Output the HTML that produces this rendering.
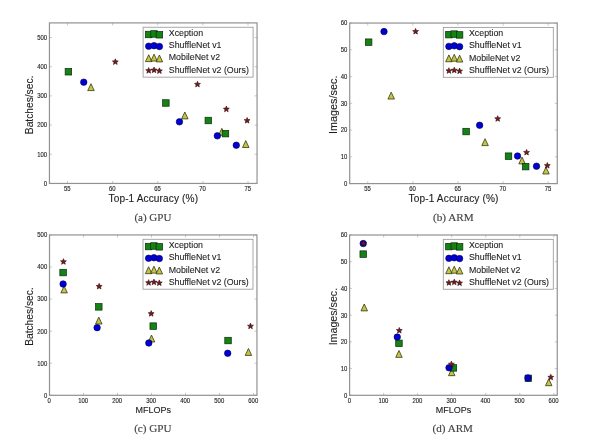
<!DOCTYPE html>
<html><head><meta charset="utf-8"><style>
html,body{margin:0;padding:0;background:#fff;}
svg{display:block;filter:blur(0.45px);}
.tk{font-family:"Liberation Sans",sans-serif;font-size:7.6px;fill:#222;stroke:#222;stroke-width:0.14px;}
.ylab{font-family:"Liberation Sans",sans-serif;font-size:10.4px;fill:#1e1e1e;stroke:#1e1e1e;stroke-width:0.1px;}
.lab{font-family:"Liberation Sans",sans-serif;font-size:10.1px;fill:#1e1e1e;stroke:#1e1e1e;stroke-width:0.12px;}
.lab2{font-family:"Liberation Sans",sans-serif;font-size:9.8px;fill:#1e1e1e;stroke:#1e1e1e;stroke-width:0.12px;}
.leg{font-family:"Liberation Sans",sans-serif;font-size:8.8px;fill:#1e1e1e;stroke:#1e1e1e;stroke-width:0.1px;}
.cap{font-family:"Liberation Serif",serif;font-size:10.5px;fill:#444;stroke:#444;stroke-width:0.15px;}
</style></head><body>
<svg width="600" height="448" viewBox="0 0 600 448">
<rect width="600" height="448" fill="#fff"/>
<rect x="49.45" y="22.90" width="207.60" height="160.55" fill="none" stroke="#929292" stroke-width="1.2"/>
<path d="M67.50,183.45 v-2.5 M67.50,22.90 v2.5" stroke="#929292" stroke-width="0.5"/>
<text x="67.20" y="191.15" class="tk" text-anchor="middle" textLength="6.60" lengthAdjust="spacingAndGlyphs">55</text>
<path d="M112.63,183.45 v-2.5 M112.63,22.90 v2.5" stroke="#929292" stroke-width="0.5"/>
<text x="112.33" y="191.15" class="tk" text-anchor="middle" textLength="6.60" lengthAdjust="spacingAndGlyphs">60</text>
<path d="M157.76,183.45 v-2.5 M157.76,22.90 v2.5" stroke="#929292" stroke-width="0.5"/>
<text x="157.46" y="191.15" class="tk" text-anchor="middle" textLength="6.60" lengthAdjust="spacingAndGlyphs">65</text>
<path d="M202.89,183.45 v-2.5 M202.89,22.90 v2.5" stroke="#929292" stroke-width="0.5"/>
<text x="202.59" y="191.15" class="tk" text-anchor="middle" textLength="6.60" lengthAdjust="spacingAndGlyphs">70</text>
<path d="M248.02,183.45 v-2.5 M248.02,22.90 v2.5" stroke="#929292" stroke-width="0.5"/>
<text x="247.72" y="191.15" class="tk" text-anchor="middle" textLength="6.60" lengthAdjust="spacingAndGlyphs">75</text>
<path d="M49.45,183.45 h2.5 M257.05,183.45 h-2.5" stroke="#929292" stroke-width="0.5"/>
<text x="47.15" y="185.85" class="tk" text-anchor="end" textLength="3.30" lengthAdjust="spacingAndGlyphs">0</text>
<path d="M49.45,154.26 h2.5 M257.05,154.26 h-2.5" stroke="#929292" stroke-width="0.5"/>
<text x="47.15" y="156.66" class="tk" text-anchor="end" textLength="9.90" lengthAdjust="spacingAndGlyphs">100</text>
<path d="M49.45,125.07 h2.5 M257.05,125.07 h-2.5" stroke="#929292" stroke-width="0.5"/>
<text x="47.15" y="127.47" class="tk" text-anchor="end" textLength="9.90" lengthAdjust="spacingAndGlyphs">200</text>
<path d="M49.45,95.88 h2.5 M257.05,95.88 h-2.5" stroke="#929292" stroke-width="0.5"/>
<text x="47.15" y="98.28" class="tk" text-anchor="end" textLength="9.90" lengthAdjust="spacingAndGlyphs">300</text>
<path d="M49.45,66.69 h2.5 M257.05,66.69 h-2.5" stroke="#929292" stroke-width="0.5"/>
<text x="47.15" y="69.09" class="tk" text-anchor="end" textLength="9.90" lengthAdjust="spacingAndGlyphs">400</text>
<path d="M49.45,37.50 h2.5 M257.05,37.50 h-2.5" stroke="#929292" stroke-width="0.5"/>
<text x="47.15" y="39.90" class="tk" text-anchor="end" textLength="9.90" lengthAdjust="spacingAndGlyphs">500</text>
<text x="153.25" y="201.80" class="lab" text-anchor="middle" textLength="89.5" lengthAdjust="spacing">Top-1 Accuracy (%)</text>
<text transform="translate(33.00,104.90) rotate(-90)" class="ylab" text-anchor="middle" textLength="58.5" lengthAdjust="spacingAndGlyphs">Batches/sec.</text>
<text x="152.90" y="220.70" class="cap" text-anchor="middle" textLength="37.0" lengthAdjust="spacingAndGlyphs">(a) GPU</text>
<path d="M90.97,83.68 L87.72,90.58 L94.22,90.58 Z" fill="#c4c448" stroke="#2e2e08" stroke-width="0.75"/>
<rect x="65.15" y="68.51" width="6.50" height="6.50" fill="#138313" stroke="#0a2a0a" stroke-width="0.7"/>
<circle cx="83.75" cy="82.16" r="3.25" fill="#0000d4" stroke="#000050" stroke-width="0.6"/>
<path d="M115.34,58.82 L116.14,60.82 L118.29,60.97 L116.64,62.35 L117.16,64.43 L115.34,63.29 L113.52,64.43 L114.04,62.35 L112.39,60.97 L114.54,60.82Z" fill="#7a1a1e" stroke="#2a0808" stroke-width="0.6" stroke-linejoin="miter"/>
<path d="M184.84,111.99 L181.59,118.89 L188.09,118.89 Z" fill="#c4c448" stroke="#2e2e08" stroke-width="0.75"/>
<rect x="162.64" y="99.74" width="6.50" height="6.50" fill="#138313" stroke="#0a2a0a" stroke-width="0.7"/>
<circle cx="179.43" cy="121.86" r="3.25" fill="#0000d4" stroke="#000050" stroke-width="0.6"/>
<path d="M197.48,81.30 L198.28,83.30 L200.43,83.44 L198.78,84.82 L199.30,86.91 L197.48,85.76 L195.66,86.91 L196.18,84.82 L194.53,83.44 L196.68,83.30Z" fill="#7a1a1e" stroke="#2a0808" stroke-width="0.6" stroke-linejoin="miter"/>
<path d="M221.85,128.34 L218.60,135.24 L225.10,135.24 Z" fill="#c4c448" stroke="#2e2e08" stroke-width="0.75"/>
<rect x="205.06" y="117.26" width="6.50" height="6.50" fill="#138313" stroke="#0a2a0a" stroke-width="0.7"/>
<circle cx="217.34" cy="135.87" r="3.25" fill="#0000d4" stroke="#000050" stroke-width="0.6"/>
<path d="M226.36,106.11 L227.16,108.11 L229.31,108.26 L227.66,109.63 L228.18,111.72 L226.36,110.58 L224.54,111.72 L225.06,109.63 L223.41,108.26 L225.56,108.11Z" fill="#7a1a1e" stroke="#2a0808" stroke-width="0.6" stroke-linejoin="miter"/>
<path d="M245.77,140.60 L242.52,147.50 L249.02,147.50 Z" fill="#c4c448" stroke="#2e2e08" stroke-width="0.75"/>
<rect x="222.21" y="130.39" width="6.50" height="6.50" fill="#138313" stroke="#0a2a0a" stroke-width="0.7"/>
<circle cx="236.29" cy="145.21" r="3.25" fill="#0000d4" stroke="#000050" stroke-width="0.6"/>
<path d="M247.12,117.50 L247.92,119.49 L250.07,119.64 L248.42,121.02 L248.94,123.11 L247.12,121.96 L245.30,123.11 L245.82,121.02 L244.17,119.64 L246.32,119.49Z" fill="#7a1a1e" stroke="#2a0808" stroke-width="0.6" stroke-linejoin="miter"/>
<rect x="143.10" y="27.25" width="110.00" height="49.90" fill="#fff" stroke="#999" stroke-width="0.85"/>
<rect x="145.45" y="31.25" width="6.50" height="6.50" fill="#138313" stroke="#0a2a0a" stroke-width="0.7"/>
<rect x="150.80" y="30.69" width="6.50" height="6.50" fill="#138313" stroke="#0a2a0a" stroke-width="0.7"/>
<rect x="156.15" y="31.53" width="6.50" height="6.50" fill="#138313" stroke="#0a2a0a" stroke-width="0.7"/>
<text x="168.80" y="36.20" class="leg">Xception</text>
<circle cx="148.70" cy="46.23" r="3.25" fill="#0000d4" stroke="#000050" stroke-width="0.6"/>
<circle cx="154.05" cy="45.67" r="3.25" fill="#0000d4" stroke="#000050" stroke-width="0.6"/>
<circle cx="159.40" cy="46.51" r="3.25" fill="#0000d4" stroke="#000050" stroke-width="0.6"/>
<text x="168.80" y="48.33" class="leg">ShuffleNet v1</text>
<path d="M148.70,54.71 L145.45,61.61 L151.95,61.61 Z" fill="#c4c448" stroke="#2e2e08" stroke-width="0.75"/>
<path d="M154.05,54.15 L150.80,61.05 L157.30,61.05 Z" fill="#c4c448" stroke="#2e2e08" stroke-width="0.75"/>
<path d="M159.40,54.99 L156.15,61.89 L162.65,61.89 Z" fill="#c4c448" stroke="#2e2e08" stroke-width="0.75"/>
<text x="168.80" y="60.46" class="leg">MobileNet v2</text>
<path d="M148.70,67.59 L149.50,69.59 L151.65,69.73 L150.00,71.11 L150.52,73.20 L148.70,72.05 L146.88,73.20 L147.40,71.11 L145.75,69.73 L147.90,69.59Z" fill="#7a1a1e" stroke="#2a0808" stroke-width="0.6" stroke-linejoin="miter"/>
<path d="M154.05,67.03 L154.85,69.02 L157.00,69.17 L155.35,70.55 L155.87,72.64 L154.05,71.49 L152.23,72.64 L152.75,70.55 L151.10,69.17 L153.25,69.02Z" fill="#7a1a1e" stroke="#2a0808" stroke-width="0.6" stroke-linejoin="miter"/>
<path d="M159.40,67.87 L160.20,69.87 L162.35,70.01 L160.70,71.39 L161.22,73.48 L159.40,72.34 L157.58,73.48 L158.10,71.39 L156.45,70.01 L158.60,69.87Z" fill="#7a1a1e" stroke="#2a0808" stroke-width="0.6" stroke-linejoin="miter"/>
<text x="168.80" y="72.59" class="leg">ShuffleNet v2 (Ours)</text>
<rect x="349.70" y="23.05" width="207.55" height="160.55" fill="none" stroke="#929292" stroke-width="1.2"/>
<path d="M367.75,183.60 v-2.5 M367.75,23.05 v2.5" stroke="#929292" stroke-width="0.5"/>
<text x="367.45" y="191.30" class="tk" text-anchor="middle" textLength="6.60" lengthAdjust="spacingAndGlyphs">55</text>
<path d="M412.87,183.60 v-2.5 M412.87,23.05 v2.5" stroke="#929292" stroke-width="0.5"/>
<text x="412.57" y="191.30" class="tk" text-anchor="middle" textLength="6.60" lengthAdjust="spacingAndGlyphs">60</text>
<path d="M457.99,183.60 v-2.5 M457.99,23.05 v2.5" stroke="#929292" stroke-width="0.5"/>
<text x="457.69" y="191.30" class="tk" text-anchor="middle" textLength="6.60" lengthAdjust="spacingAndGlyphs">65</text>
<path d="M503.11,183.60 v-2.5 M503.11,23.05 v2.5" stroke="#929292" stroke-width="0.5"/>
<text x="502.81" y="191.30" class="tk" text-anchor="middle" textLength="6.60" lengthAdjust="spacingAndGlyphs">70</text>
<path d="M548.23,183.60 v-2.5 M548.23,23.05 v2.5" stroke="#929292" stroke-width="0.5"/>
<text x="547.93" y="191.30" class="tk" text-anchor="middle" textLength="6.60" lengthAdjust="spacingAndGlyphs">75</text>
<path d="M349.70,183.60 h2.5 M557.25,183.60 h-2.5" stroke="#929292" stroke-width="0.5"/>
<text x="347.40" y="186.00" class="tk" text-anchor="end" textLength="3.30" lengthAdjust="spacingAndGlyphs">0</text>
<path d="M349.70,156.84 h2.5 M557.25,156.84 h-2.5" stroke="#929292" stroke-width="0.5"/>
<text x="347.40" y="159.24" class="tk" text-anchor="end" textLength="6.60" lengthAdjust="spacingAndGlyphs">10</text>
<path d="M349.70,130.08 h2.5 M557.25,130.08 h-2.5" stroke="#929292" stroke-width="0.5"/>
<text x="347.40" y="132.48" class="tk" text-anchor="end" textLength="6.60" lengthAdjust="spacingAndGlyphs">20</text>
<path d="M349.70,103.33 h2.5 M557.25,103.33 h-2.5" stroke="#929292" stroke-width="0.5"/>
<text x="347.40" y="105.73" class="tk" text-anchor="end" textLength="6.60" lengthAdjust="spacingAndGlyphs">30</text>
<path d="M349.70,76.57 h2.5 M557.25,76.57 h-2.5" stroke="#929292" stroke-width="0.5"/>
<text x="347.40" y="78.97" class="tk" text-anchor="end" textLength="6.60" lengthAdjust="spacingAndGlyphs">40</text>
<path d="M349.70,49.81 h2.5 M557.25,49.81 h-2.5" stroke="#929292" stroke-width="0.5"/>
<text x="347.40" y="52.21" class="tk" text-anchor="end" textLength="6.60" lengthAdjust="spacingAndGlyphs">50</text>
<path d="M349.70,23.05 h2.5 M557.25,23.05 h-2.5" stroke="#929292" stroke-width="0.5"/>
<text x="347.40" y="25.45" class="tk" text-anchor="end" textLength="6.60" lengthAdjust="spacingAndGlyphs">60</text>
<text x="453.48" y="201.80" class="lab" text-anchor="middle" textLength="90.0" lengthAdjust="spacing">Top-1 Accuracy (%)</text>
<text transform="translate(336.80,104.80) rotate(-90)" class="ylab" text-anchor="middle" textLength="58.5" lengthAdjust="spacingAndGlyphs">Images/sec.</text>
<text x="453.30" y="220.60" class="cap" text-anchor="middle" textLength="40.6" lengthAdjust="spacingAndGlyphs">(b) ARM</text>
<path d="M391.21,92.15 L387.96,99.05 L394.46,99.05 Z" fill="#c4c448" stroke="#2e2e08" stroke-width="0.75"/>
<rect x="365.40" y="38.93" width="6.50" height="6.50" fill="#138313" stroke="#0a2a0a" stroke-width="0.7"/>
<circle cx="383.99" cy="31.61" r="3.25" fill="#0000d4" stroke="#000050" stroke-width="0.6"/>
<path d="M415.57,28.45 L416.38,30.44 L418.52,30.59 L416.87,31.97 L417.40,34.05 L415.57,32.91 L413.75,34.05 L414.28,31.97 L412.63,30.59 L414.77,30.44Z" fill="#7a1a1e" stroke="#2a0808" stroke-width="0.6" stroke-linejoin="miter"/>
<path d="M485.06,138.71 L481.81,145.61 L488.31,145.61 Z" fill="#c4c448" stroke="#2e2e08" stroke-width="0.75"/>
<rect x="462.86" y="128.30" width="6.50" height="6.50" fill="#138313" stroke="#0a2a0a" stroke-width="0.7"/>
<circle cx="479.64" cy="125.27" r="3.25" fill="#0000d4" stroke="#000050" stroke-width="0.6"/>
<path d="M497.69,115.68 L498.49,117.67 L500.64,117.82 L498.99,119.20 L499.51,121.29 L497.69,120.14 L495.87,121.29 L496.39,119.20 L494.74,117.82 L496.89,117.67Z" fill="#7a1a1e" stroke="#2a0808" stroke-width="0.6" stroke-linejoin="miter"/>
<path d="M522.06,157.04 L518.81,163.94 L525.31,163.94 Z" fill="#c4c448" stroke="#2e2e08" stroke-width="0.75"/>
<rect x="505.27" y="152.92" width="6.50" height="6.50" fill="#138313" stroke="#0a2a0a" stroke-width="0.7"/>
<circle cx="517.54" cy="156.04" r="3.25" fill="#0000d4" stroke="#000050" stroke-width="0.6"/>
<path d="M526.57,149.39 L527.37,151.39 L529.52,151.53 L527.87,152.91 L528.39,155.00 L526.57,153.86 L524.75,155.00 L525.27,152.91 L523.62,151.53 L525.77,151.39Z" fill="#7a1a1e" stroke="#2a0808" stroke-width="0.6" stroke-linejoin="miter"/>
<path d="M545.97,167.07 L542.72,173.97 L549.22,173.97 Z" fill="#c4c448" stroke="#2e2e08" stroke-width="0.75"/>
<rect x="522.42" y="163.36" width="6.50" height="6.50" fill="#138313" stroke="#0a2a0a" stroke-width="0.7"/>
<circle cx="536.50" cy="166.21" r="3.25" fill="#0000d4" stroke="#000050" stroke-width="0.6"/>
<path d="M547.32,162.50 L548.13,164.50 L550.27,164.65 L548.62,166.03 L549.15,168.11 L547.32,166.97 L545.50,168.11 L546.03,166.03 L544.38,164.65 L546.52,164.50Z" fill="#7a1a1e" stroke="#2a0808" stroke-width="0.6" stroke-linejoin="miter"/>
<rect x="443.30" y="27.40" width="110.00" height="49.90" fill="#fff" stroke="#999" stroke-width="0.85"/>
<rect x="445.65" y="31.40" width="6.50" height="6.50" fill="#138313" stroke="#0a2a0a" stroke-width="0.7"/>
<rect x="451.00" y="30.84" width="6.50" height="6.50" fill="#138313" stroke="#0a2a0a" stroke-width="0.7"/>
<rect x="456.35" y="31.68" width="6.50" height="6.50" fill="#138313" stroke="#0a2a0a" stroke-width="0.7"/>
<text x="469.00" y="36.35" class="leg">Xception</text>
<circle cx="448.90" cy="46.38" r="3.25" fill="#0000d4" stroke="#000050" stroke-width="0.6"/>
<circle cx="454.25" cy="45.82" r="3.25" fill="#0000d4" stroke="#000050" stroke-width="0.6"/>
<circle cx="459.60" cy="46.66" r="3.25" fill="#0000d4" stroke="#000050" stroke-width="0.6"/>
<text x="469.00" y="48.48" class="leg">ShuffleNet v1</text>
<path d="M448.90,54.86 L445.65,61.76 L452.15,61.76 Z" fill="#c4c448" stroke="#2e2e08" stroke-width="0.75"/>
<path d="M454.25,54.30 L451.00,61.20 L457.50,61.20 Z" fill="#c4c448" stroke="#2e2e08" stroke-width="0.75"/>
<path d="M459.60,55.14 L456.35,62.04 L462.85,62.04 Z" fill="#c4c448" stroke="#2e2e08" stroke-width="0.75"/>
<text x="469.00" y="60.61" class="leg">MobileNet v2</text>
<path d="M448.90,67.74 L449.70,69.74 L451.85,69.88 L450.20,71.26 L450.72,73.35 L448.90,72.20 L447.08,73.35 L447.60,71.26 L445.95,69.88 L448.10,69.74Z" fill="#7a1a1e" stroke="#2a0808" stroke-width="0.6" stroke-linejoin="miter"/>
<path d="M454.25,67.18 L455.05,69.17 L457.20,69.32 L455.55,70.70 L456.07,72.79 L454.25,71.64 L452.43,72.79 L452.95,70.70 L451.30,69.32 L453.45,69.17Z" fill="#7a1a1e" stroke="#2a0808" stroke-width="0.6" stroke-linejoin="miter"/>
<path d="M459.60,68.02 L460.40,70.02 L462.55,70.16 L460.90,71.54 L461.42,73.63 L459.60,72.49 L457.78,73.63 L458.30,71.54 L456.65,70.16 L458.80,70.02Z" fill="#7a1a1e" stroke="#2a0808" stroke-width="0.6" stroke-linejoin="miter"/>
<text x="469.00" y="72.74" class="leg">ShuffleNet v2 (Ours)</text>
<rect x="49.50" y="234.95" width="207.45" height="160.35" fill="none" stroke="#929292" stroke-width="1.2"/>
<path d="M49.50,395.30 v-2.5 M49.50,234.95 v2.5" stroke="#929292" stroke-width="0.5"/>
<text x="49.20" y="403.00" class="tk" text-anchor="middle" textLength="3.30" lengthAdjust="spacingAndGlyphs">0</text>
<path d="M83.51,395.30 v-2.5 M83.51,234.95 v2.5" stroke="#929292" stroke-width="0.5"/>
<text x="83.21" y="403.00" class="tk" text-anchor="middle" textLength="9.90" lengthAdjust="spacingAndGlyphs">100</text>
<path d="M117.52,395.30 v-2.5 M117.52,234.95 v2.5" stroke="#929292" stroke-width="0.5"/>
<text x="117.22" y="403.00" class="tk" text-anchor="middle" textLength="9.90" lengthAdjust="spacingAndGlyphs">200</text>
<path d="M151.52,395.30 v-2.5 M151.52,234.95 v2.5" stroke="#929292" stroke-width="0.5"/>
<text x="151.22" y="403.00" class="tk" text-anchor="middle" textLength="9.90" lengthAdjust="spacingAndGlyphs">300</text>
<path d="M185.53,395.30 v-2.5 M185.53,234.95 v2.5" stroke="#929292" stroke-width="0.5"/>
<text x="185.23" y="403.00" class="tk" text-anchor="middle" textLength="9.90" lengthAdjust="spacingAndGlyphs">400</text>
<path d="M219.54,395.30 v-2.5 M219.54,234.95 v2.5" stroke="#929292" stroke-width="0.5"/>
<text x="219.24" y="403.00" class="tk" text-anchor="middle" textLength="9.90" lengthAdjust="spacingAndGlyphs">500</text>
<path d="M253.55,395.30 v-2.5 M253.55,234.95 v2.5" stroke="#929292" stroke-width="0.5"/>
<text x="253.25" y="403.00" class="tk" text-anchor="middle" textLength="9.90" lengthAdjust="spacingAndGlyphs">600</text>
<path d="M49.50,395.30 h2.5 M256.95,395.30 h-2.5" stroke="#929292" stroke-width="0.5"/>
<text x="47.20" y="397.70" class="tk" text-anchor="end" textLength="3.30" lengthAdjust="spacingAndGlyphs">0</text>
<path d="M49.50,363.23 h2.5 M256.95,363.23 h-2.5" stroke="#929292" stroke-width="0.5"/>
<text x="47.20" y="365.63" class="tk" text-anchor="end" textLength="9.90" lengthAdjust="spacingAndGlyphs">100</text>
<path d="M49.50,331.16 h2.5 M256.95,331.16 h-2.5" stroke="#929292" stroke-width="0.5"/>
<text x="47.20" y="333.56" class="tk" text-anchor="end" textLength="9.90" lengthAdjust="spacingAndGlyphs">200</text>
<path d="M49.50,299.09 h2.5 M256.95,299.09 h-2.5" stroke="#929292" stroke-width="0.5"/>
<text x="47.20" y="301.49" class="tk" text-anchor="end" textLength="9.90" lengthAdjust="spacingAndGlyphs">300</text>
<path d="M49.50,267.02 h2.5 M256.95,267.02 h-2.5" stroke="#929292" stroke-width="0.5"/>
<text x="47.20" y="269.42" class="tk" text-anchor="end" textLength="9.90" lengthAdjust="spacingAndGlyphs">400</text>
<path d="M49.50,234.95 h2.5 M256.95,234.95 h-2.5" stroke="#929292" stroke-width="0.5"/>
<text x="47.20" y="237.35" class="tk" text-anchor="end" textLength="9.90" lengthAdjust="spacingAndGlyphs">500</text>
<text x="153.22" y="413.00" class="lab2" text-anchor="middle" textLength="35.4" lengthAdjust="spacingAndGlyphs">MFLOPs</text>
<text transform="translate(33.00,316.60) rotate(-90)" class="ylab" text-anchor="middle" textLength="58.5" lengthAdjust="spacingAndGlyphs">Batches/sec.</text>
<text x="152.90" y="431.80" class="cap" text-anchor="middle" textLength="37.5" lengthAdjust="spacingAndGlyphs">(c) GPU</text>
<path d="M64.12,286.00 L60.87,292.90 L67.37,292.90 Z" fill="#c4c448" stroke="#2e2e08" stroke-width="0.75"/>
<rect x="59.85" y="269.30" width="6.50" height="6.50" fill="#138313" stroke="#0a2a0a" stroke-width="0.7"/>
<circle cx="63.10" cy="284.02" r="3.25" fill="#0000d4" stroke="#000050" stroke-width="0.6"/>
<path d="M63.44,258.67 L64.25,260.66 L66.39,260.81 L64.74,262.19 L65.27,264.28 L63.44,263.13 L61.62,264.28 L62.15,262.19 L60.50,260.81 L62.64,260.66Z" fill="#7a1a1e" stroke="#2a0808" stroke-width="0.6" stroke-linejoin="miter"/>
<path d="M98.81,317.11 L95.56,324.01 L102.06,324.01 Z" fill="#c4c448" stroke="#2e2e08" stroke-width="0.75"/>
<rect x="95.56" y="303.62" width="6.50" height="6.50" fill="#138313" stroke="#0a2a0a" stroke-width="0.7"/>
<circle cx="97.11" cy="327.63" r="3.25" fill="#0000d4" stroke="#000050" stroke-width="0.6"/>
<path d="M99.15,283.36 L99.95,285.36 L102.10,285.50 L100.45,286.88 L100.97,288.97 L99.15,287.83 L97.33,288.97 L97.85,286.88 L96.20,285.50 L98.35,285.36Z" fill="#7a1a1e" stroke="#2a0808" stroke-width="0.6" stroke-linejoin="miter"/>
<path d="M151.52,335.07 L148.27,341.97 L154.77,341.97 Z" fill="#c4c448" stroke="#2e2e08" stroke-width="0.75"/>
<rect x="149.97" y="322.86" width="6.50" height="6.50" fill="#138313" stroke="#0a2a0a" stroke-width="0.7"/>
<circle cx="148.80" cy="343.03" r="3.25" fill="#0000d4" stroke="#000050" stroke-width="0.6"/>
<path d="M151.18,310.62 L151.99,312.62 L154.13,312.76 L152.48,314.14 L153.01,316.23 L151.18,315.09 L149.36,316.23 L149.89,314.14 L148.24,312.76 L150.38,312.62Z" fill="#7a1a1e" stroke="#2a0808" stroke-width="0.6" stroke-linejoin="miter"/>
<path d="M248.45,348.53 L245.20,355.43 L251.70,355.43 Z" fill="#c4c448" stroke="#2e2e08" stroke-width="0.75"/>
<rect x="224.79" y="337.29" width="6.50" height="6.50" fill="#138313" stroke="#0a2a0a" stroke-width="0.7"/>
<circle cx="227.70" cy="353.29" r="3.25" fill="#0000d4" stroke="#000050" stroke-width="0.6"/>
<path d="M250.49,323.13 L251.29,325.13 L253.44,325.27 L251.79,326.65 L252.31,328.74 L250.49,327.59 L248.67,328.74 L249.19,326.65 L247.54,325.27 L249.69,325.13Z" fill="#7a1a1e" stroke="#2a0808" stroke-width="0.6" stroke-linejoin="miter"/>
<rect x="143.00" y="239.30" width="110.00" height="49.90" fill="#fff" stroke="#999" stroke-width="0.85"/>
<rect x="145.35" y="243.30" width="6.50" height="6.50" fill="#138313" stroke="#0a2a0a" stroke-width="0.7"/>
<rect x="150.70" y="242.74" width="6.50" height="6.50" fill="#138313" stroke="#0a2a0a" stroke-width="0.7"/>
<rect x="156.05" y="243.58" width="6.50" height="6.50" fill="#138313" stroke="#0a2a0a" stroke-width="0.7"/>
<text x="168.70" y="248.25" class="leg">Xception</text>
<circle cx="148.60" cy="258.28" r="3.25" fill="#0000d4" stroke="#000050" stroke-width="0.6"/>
<circle cx="153.95" cy="257.72" r="3.25" fill="#0000d4" stroke="#000050" stroke-width="0.6"/>
<circle cx="159.30" cy="258.56" r="3.25" fill="#0000d4" stroke="#000050" stroke-width="0.6"/>
<text x="168.70" y="260.38" class="leg">ShuffleNet v1</text>
<path d="M148.60,266.76 L145.35,273.66 L151.85,273.66 Z" fill="#c4c448" stroke="#2e2e08" stroke-width="0.75"/>
<path d="M153.95,266.20 L150.70,273.10 L157.20,273.10 Z" fill="#c4c448" stroke="#2e2e08" stroke-width="0.75"/>
<path d="M159.30,267.04 L156.05,273.94 L162.55,273.94 Z" fill="#c4c448" stroke="#2e2e08" stroke-width="0.75"/>
<text x="168.70" y="272.51" class="leg">MobileNet v2</text>
<path d="M148.60,279.64 L149.40,281.64 L151.55,281.78 L149.90,283.16 L150.42,285.25 L148.60,284.10 L146.78,285.25 L147.30,283.16 L145.65,281.78 L147.80,281.64Z" fill="#7a1a1e" stroke="#2a0808" stroke-width="0.6" stroke-linejoin="miter"/>
<path d="M153.95,279.08 L154.75,281.07 L156.90,281.22 L155.25,282.60 L155.77,284.69 L153.95,283.54 L152.13,284.69 L152.65,282.60 L151.00,281.22 L153.15,281.07Z" fill="#7a1a1e" stroke="#2a0808" stroke-width="0.6" stroke-linejoin="miter"/>
<path d="M159.30,279.92 L160.10,281.92 L162.25,282.06 L160.60,283.44 L161.12,285.53 L159.30,284.39 L157.48,285.53 L158.00,283.44 L156.35,282.06 L158.50,281.92Z" fill="#7a1a1e" stroke="#2a0808" stroke-width="0.6" stroke-linejoin="miter"/>
<text x="168.70" y="284.64" class="leg">ShuffleNet v2 (Ours)</text>
<rect x="349.60" y="235.00" width="207.65" height="160.30" fill="none" stroke="#929292" stroke-width="1.2"/>
<path d="M349.60,395.30 v-2.5 M349.60,235.00 v2.5" stroke="#929292" stroke-width="0.5"/>
<text x="349.30" y="403.00" class="tk" text-anchor="middle" textLength="3.30" lengthAdjust="spacingAndGlyphs">0</text>
<path d="M383.64,395.30 v-2.5 M383.64,235.00 v2.5" stroke="#929292" stroke-width="0.5"/>
<text x="383.34" y="403.00" class="tk" text-anchor="middle" textLength="9.90" lengthAdjust="spacingAndGlyphs">100</text>
<path d="M417.68,395.30 v-2.5 M417.68,235.00 v2.5" stroke="#929292" stroke-width="0.5"/>
<text x="417.38" y="403.00" class="tk" text-anchor="middle" textLength="9.90" lengthAdjust="spacingAndGlyphs">200</text>
<path d="M451.72,395.30 v-2.5 M451.72,235.00 v2.5" stroke="#929292" stroke-width="0.5"/>
<text x="451.42" y="403.00" class="tk" text-anchor="middle" textLength="9.90" lengthAdjust="spacingAndGlyphs">300</text>
<path d="M485.76,395.30 v-2.5 M485.76,235.00 v2.5" stroke="#929292" stroke-width="0.5"/>
<text x="485.46" y="403.00" class="tk" text-anchor="middle" textLength="9.90" lengthAdjust="spacingAndGlyphs">400</text>
<path d="M519.80,395.30 v-2.5 M519.80,235.00 v2.5" stroke="#929292" stroke-width="0.5"/>
<text x="519.50" y="403.00" class="tk" text-anchor="middle" textLength="9.90" lengthAdjust="spacingAndGlyphs">500</text>
<path d="M553.85,395.30 v-2.5 M553.85,235.00 v2.5" stroke="#929292" stroke-width="0.5"/>
<text x="553.55" y="403.00" class="tk" text-anchor="middle" textLength="9.90" lengthAdjust="spacingAndGlyphs">600</text>
<path d="M349.60,395.30 h2.5 M557.25,395.30 h-2.5" stroke="#929292" stroke-width="0.5"/>
<text x="347.30" y="397.70" class="tk" text-anchor="end" textLength="3.30" lengthAdjust="spacingAndGlyphs">0</text>
<path d="M349.60,368.58 h2.5 M557.25,368.58 h-2.5" stroke="#929292" stroke-width="0.5"/>
<text x="347.30" y="370.98" class="tk" text-anchor="end" textLength="6.60" lengthAdjust="spacingAndGlyphs">10</text>
<path d="M349.60,341.87 h2.5 M557.25,341.87 h-2.5" stroke="#929292" stroke-width="0.5"/>
<text x="347.30" y="344.27" class="tk" text-anchor="end" textLength="6.60" lengthAdjust="spacingAndGlyphs">20</text>
<path d="M349.60,315.15 h2.5 M557.25,315.15 h-2.5" stroke="#929292" stroke-width="0.5"/>
<text x="347.30" y="317.55" class="tk" text-anchor="end" textLength="6.60" lengthAdjust="spacingAndGlyphs">30</text>
<path d="M349.60,288.43 h2.5 M557.25,288.43 h-2.5" stroke="#929292" stroke-width="0.5"/>
<text x="347.30" y="290.83" class="tk" text-anchor="end" textLength="6.60" lengthAdjust="spacingAndGlyphs">40</text>
<path d="M349.60,261.72 h2.5 M557.25,261.72 h-2.5" stroke="#929292" stroke-width="0.5"/>
<text x="347.30" y="264.12" class="tk" text-anchor="end" textLength="6.60" lengthAdjust="spacingAndGlyphs">50</text>
<path d="M349.60,235.00 h2.5 M557.25,235.00 h-2.5" stroke="#929292" stroke-width="0.5"/>
<text x="347.30" y="237.40" class="tk" text-anchor="end" textLength="6.60" lengthAdjust="spacingAndGlyphs">60</text>
<text x="453.43" y="412.60" class="lab2" text-anchor="middle" textLength="35.4" lengthAdjust="spacingAndGlyphs">MFLOPs</text>
<text transform="translate(336.80,316.60) rotate(-90)" class="ylab" text-anchor="middle" textLength="57.5" lengthAdjust="spacingAndGlyphs">Images/sec.</text>
<text x="452.80" y="431.80" class="cap" text-anchor="middle" textLength="40.4" lengthAdjust="spacingAndGlyphs">(d) ARM</text>
<path d="M364.24,303.99 L360.99,310.88 L367.49,310.88 Z" fill="#c4c448" stroke="#2e2e08" stroke-width="0.75"/>
<rect x="359.97" y="250.85" width="6.50" height="6.50" fill="#138313" stroke="#0a2a0a" stroke-width="0.7"/>
<circle cx="363.22" cy="243.55" r="3.25" fill="#0000d4" stroke="#000050" stroke-width="0.6"/>
<path d="M363.56,240.38 L364.36,242.38 L366.51,242.52 L364.85,243.90 L365.38,245.99 L363.56,244.85 L361.73,245.99 L362.26,243.90 L360.61,242.52 L362.76,242.38Z" fill="#7a1a1e" stroke="#2a0808" stroke-width="0.6" stroke-linejoin="miter"/>
<path d="M398.96,350.47 L395.71,357.37 L402.21,357.37 Z" fill="#c4c448" stroke="#2e2e08" stroke-width="0.75"/>
<rect x="395.71" y="340.09" width="6.50" height="6.50" fill="#138313" stroke="#0a2a0a" stroke-width="0.7"/>
<circle cx="397.26" cy="337.06" r="3.25" fill="#0000d4" stroke="#000050" stroke-width="0.6"/>
<path d="M399.30,327.48 L400.10,329.48 L402.25,329.62 L400.60,331.00 L401.12,333.09 L399.30,331.94 L397.48,333.09 L398.00,331.00 L396.35,329.62 L398.50,329.48Z" fill="#7a1a1e" stroke="#2a0808" stroke-width="0.6" stroke-linejoin="miter"/>
<path d="M451.72,368.77 L448.47,375.67 L454.97,375.67 Z" fill="#c4c448" stroke="#2e2e08" stroke-width="0.75"/>
<rect x="450.18" y="364.66" width="6.50" height="6.50" fill="#138313" stroke="#0a2a0a" stroke-width="0.7"/>
<circle cx="449.00" cy="367.78" r="3.25" fill="#0000d4" stroke="#000050" stroke-width="0.6"/>
<path d="M451.38,361.14 L452.18,363.14 L454.33,363.28 L452.68,364.66 L453.20,366.75 L451.38,365.61 L449.56,366.75 L450.09,364.66 L448.43,363.28 L450.58,363.14Z" fill="#7a1a1e" stroke="#2a0808" stroke-width="0.6" stroke-linejoin="miter"/>
<path d="M548.74,378.79 L545.49,385.69 L551.99,385.69 Z" fill="#c4c448" stroke="#2e2e08" stroke-width="0.75"/>
<rect x="525.07" y="375.08" width="6.50" height="6.50" fill="#138313" stroke="#0a2a0a" stroke-width="0.7"/>
<circle cx="527.97" cy="377.93" r="3.25" fill="#0000d4" stroke="#000050" stroke-width="0.6"/>
<path d="M550.78,374.23 L551.58,376.23 L553.73,376.37 L552.08,377.75 L552.60,379.84 L550.78,378.70 L548.96,379.84 L549.48,377.75 L547.83,376.37 L549.98,376.23Z" fill="#7a1a1e" stroke="#2a0808" stroke-width="0.6" stroke-linejoin="miter"/>
<rect x="443.30" y="239.35" width="110.00" height="49.90" fill="#fff" stroke="#999" stroke-width="0.85"/>
<rect x="445.65" y="243.35" width="6.50" height="6.50" fill="#138313" stroke="#0a2a0a" stroke-width="0.7"/>
<rect x="451.00" y="242.79" width="6.50" height="6.50" fill="#138313" stroke="#0a2a0a" stroke-width="0.7"/>
<rect x="456.35" y="243.63" width="6.50" height="6.50" fill="#138313" stroke="#0a2a0a" stroke-width="0.7"/>
<text x="469.00" y="248.30" class="leg">Xception</text>
<circle cx="448.90" cy="258.33" r="3.25" fill="#0000d4" stroke="#000050" stroke-width="0.6"/>
<circle cx="454.25" cy="257.77" r="3.25" fill="#0000d4" stroke="#000050" stroke-width="0.6"/>
<circle cx="459.60" cy="258.61" r="3.25" fill="#0000d4" stroke="#000050" stroke-width="0.6"/>
<text x="469.00" y="260.43" class="leg">ShuffleNet v1</text>
<path d="M448.90,266.81 L445.65,273.71 L452.15,273.71 Z" fill="#c4c448" stroke="#2e2e08" stroke-width="0.75"/>
<path d="M454.25,266.25 L451.00,273.15 L457.50,273.15 Z" fill="#c4c448" stroke="#2e2e08" stroke-width="0.75"/>
<path d="M459.60,267.09 L456.35,273.99 L462.85,273.99 Z" fill="#c4c448" stroke="#2e2e08" stroke-width="0.75"/>
<text x="469.00" y="272.56" class="leg">MobileNet v2</text>
<path d="M448.90,279.69 L449.70,281.69 L451.85,281.83 L450.20,283.21 L450.72,285.30 L448.90,284.15 L447.08,285.30 L447.60,283.21 L445.95,281.83 L448.10,281.69Z" fill="#7a1a1e" stroke="#2a0808" stroke-width="0.6" stroke-linejoin="miter"/>
<path d="M454.25,279.13 L455.05,281.12 L457.20,281.27 L455.55,282.65 L456.07,284.74 L454.25,283.59 L452.43,284.74 L452.95,282.65 L451.30,281.27 L453.45,281.12Z" fill="#7a1a1e" stroke="#2a0808" stroke-width="0.6" stroke-linejoin="miter"/>
<path d="M459.60,279.97 L460.40,281.97 L462.55,282.11 L460.90,283.49 L461.42,285.58 L459.60,284.44 L457.78,285.58 L458.30,283.49 L456.65,282.11 L458.80,281.97Z" fill="#7a1a1e" stroke="#2a0808" stroke-width="0.6" stroke-linejoin="miter"/>
<text x="469.00" y="284.69" class="leg">ShuffleNet v2 (Ours)</text>
</svg></body></html>
